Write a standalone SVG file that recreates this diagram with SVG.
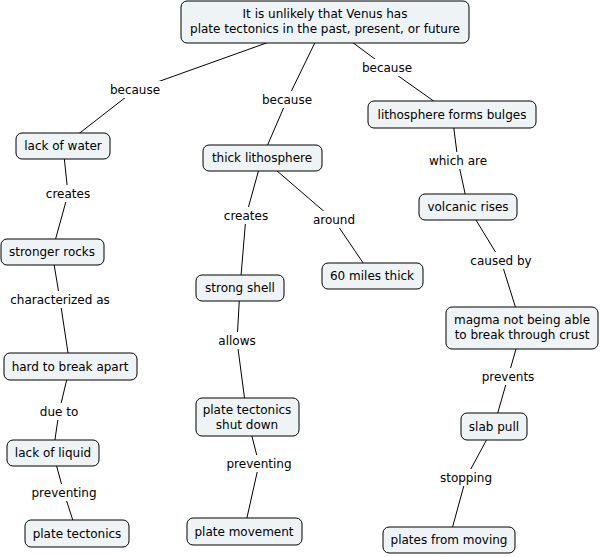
<svg xmlns="http://www.w3.org/2000/svg" width="601" height="557" viewBox="0 0 601 557">
<style>
.n rect{fill:#eef3f5;stroke:#000;stroke-width:1}
text{font-family:"DejaVu Sans",Verdana,sans-serif;font-size:12px;text-anchor:middle;fill:#000}
.c line{stroke:#000;stroke-width:1}
.l rect{fill:#fff}
</style>
<rect width="601" height="557" fill="#fff"/>
<g class="c">
<line x1="325" y1="22" x2="135" y2="90"/><line x1="135" y1="90" x2="63" y2="146"/>
<line x1="325" y1="22" x2="287" y2="100"/><line x1="287" y1="100" x2="262" y2="158"/>
<line x1="325" y1="22" x2="387" y2="68"/><line x1="387" y1="68" x2="452" y2="114"/>
<line x1="63" y1="146" x2="68" y2="194"/><line x1="68" y1="194" x2="52" y2="252"/>
<line x1="52" y1="252" x2="60" y2="300"/><line x1="60" y1="300" x2="70" y2="366"/>
<line x1="70" y1="366" x2="59" y2="412"/><line x1="59" y1="412" x2="53" y2="453"/>
<line x1="53" y1="453" x2="64" y2="493"/><line x1="64" y1="493" x2="77" y2="533"/>
<line x1="262" y1="158" x2="246" y2="216"/><line x1="246" y1="216" x2="240" y2="288"/>
<line x1="262" y1="158" x2="334" y2="220"/><line x1="334" y1="220" x2="372" y2="276"/>
<line x1="240" y1="288" x2="237" y2="341"/><line x1="237" y1="341" x2="247" y2="417"/>
<line x1="247" y1="417" x2="259" y2="464"/><line x1="259" y1="464" x2="244" y2="531"/>
<line x1="452" y1="114" x2="458" y2="161"/><line x1="458" y1="161" x2="468" y2="207"/>
<line x1="468" y1="207" x2="501" y2="261"/><line x1="501" y1="261" x2="522" y2="328"/>
<line x1="522" y1="328" x2="508" y2="377"/><line x1="508" y1="377" x2="494" y2="426"/>
<line x1="494" y1="426" x2="466" y2="478"/><line x1="466" y1="478" x2="449" y2="540"/>
</g>
<g class="l">
<g><rect x="107" y="81" width="56" height="17"/><text x="135" y="94">because</text></g>
<g><rect x="259" y="91" width="56" height="17"/><text x="287" y="104">because</text></g>
<g><rect x="359" y="59" width="56" height="17"/><text x="387" y="72">because</text></g>
<g><rect x="43" y="185" width="50" height="17"/><text x="68" y="198">creates</text></g>
<g><rect x="221" y="207" width="50" height="17"/><text x="246" y="220">creates</text></g>
<g><rect x="311" y="211" width="46" height="17"/><text x="334" y="224">around</text></g>
<g><rect x="425" y="152" width="66" height="17"/><text x="458" y="165">which are</text></g>
<g><rect x="468" y="252" width="66" height="17"/><text x="501" y="265">caused by</text></g>
<g><rect x="5" y="291" width="110" height="17"/><text x="60" y="304">characterized as</text></g>
<g><rect x="216" y="332" width="42" height="17"/><text x="237" y="345">allows</text></g>
<g><rect x="479" y="368" width="58" height="17"/><text x="508" y="381">prevents</text></g>
<g><rect x="38" y="403" width="42" height="17"/><text x="59" y="416">due to</text></g>
<g><rect x="225" y="455" width="68" height="17"/><text x="259" y="468">preventing</text></g>
<g><rect x="437" y="469" width="58" height="17"/><text x="466" y="482">stopping</text></g>
<g><rect x="30" y="484" width="68" height="17"/><text x="64" y="497">preventing</text></g>
</g>
<g class="n">
<g id="root"><rect x="181" y="1" width="288" height="42" rx="6"/><text x="325" y="18">It is unlikely that Venus has</text><text x="325" y="33">plate tectonics in the past, present, or future</text></g>
<g id="water"><rect x="16" y="133" width="94" height="26" rx="6"/><text x="63" y="150">lack of water</text></g>
<g id="thick"><rect x="203" y="145" width="119" height="26" rx="6"/><text x="262" y="162">thick lithosphere</text></g>
<g id="bulges"><rect x="368" y="101" width="168" height="27" rx="6"/><text x="452" y="119">lithosphere forms bulges</text></g>
<g id="stronger"><rect x="1" y="239" width="103" height="26" rx="6"/><text x="52" y="256">stronger rocks</text></g>
<g id="volcanic"><rect x="419" y="194" width="98" height="26" rx="6"/><text x="468" y="211">volcanic rises</text></g>
<g id="miles"><rect x="322" y="263" width="101" height="26" rx="6"/><text x="372" y="280">60 miles thick</text></g>
<g id="shell"><rect x="196" y="275" width="88" height="26" rx="6"/><text x="240" y="292">strong shell</text></g>
<g id="magma"><rect x="446" y="307" width="152" height="42" rx="6"/><text x="522" y="324">magma not being able</text><text x="522" y="339">to break through crust</text></g>
<g id="hard"><rect x="4" y="353" width="133" height="27" rx="6"/><text x="70" y="371">hard to break apart</text></g>
<g id="shut"><rect x="196" y="398" width="103" height="38" rx="6"/><text x="247" y="414">plate tectonics</text><text x="247" y="429">shut down</text></g>
<g id="slab"><rect x="461" y="413" width="66" height="27" rx="6"/><text x="494" y="431">slab pull</text></g>
<g id="liquid"><rect x="7" y="440" width="92" height="26" rx="6"/><text x="53" y="457">lack of liquid</text></g>
<g id="pt"><rect x="25" y="520" width="104" height="27" rx="6"/><text x="77" y="538">plate tectonics</text></g>
<g id="move"><rect x="187" y="518" width="115" height="27" rx="6"/><text x="244" y="536">plate movement</text></g>
<g id="moving"><rect x="383" y="527" width="132" height="26" rx="6"/><text x="449" y="544">plates from moving</text></g>
</g>
</svg>
